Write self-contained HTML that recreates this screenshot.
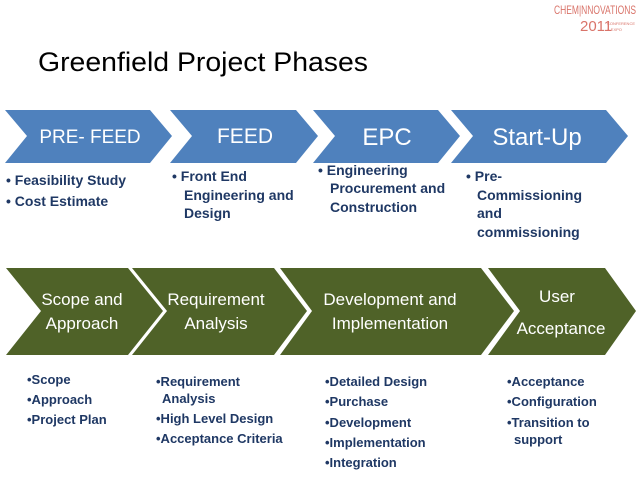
<!DOCTYPE html>
<html><head><style>
body{margin:0;background:#fff;}
svg text{font-family:"Liberation Sans",sans-serif;}
</style></head><body>
<svg width="638" height="479" xmlns="http://www.w3.org/2000/svg">
<defs><clipPath id="c"><rect x="0" y="0" width="605" height="479"/></clipPath></defs>
<text x="554" y="14" font-size="12" fill="#d9746a" textLength="82" lengthAdjust="spacingAndGlyphs">CHEM|NNOVATIONS</text>
<text x="580" y="31" font-size="15" fill="#d9746a">2011</text>
<text x="607" y="25" font-size="4" fill="#d9746a">CONFERENCE</text>
<text x="607" y="31" font-size="4" fill="#d9746a">&amp; EXPO</text>
<text x="38" y="71" font-size="27" fill="#000" textLength="330" lengthAdjust="spacingAndGlyphs">Greenfield Project Phases</text>
<g fill="#4f81bd">
<polygon points="5,110 150,110 172,136 150,163 5,163 27,136"/>
<polygon points="170,110 296,110 318,136 296,163 170,163 192,136"/>
<polygon points="313,110 438,110 460,136 438,163 313,163 335,136"/>
<polygon points="451,110 606,110 628,136 606,163 451,163 473,136"/>
</g>
<g fill="#fff" font-size="19" text-anchor="middle">
<text x="90" y="143">PRE- FEED</text>
<text x="245" y="143" font-size="21">FEED</text>
<text x="387" y="145" font-size="24">EPC</text>
<text x="537" y="145" font-size="24">Start-Up</text>
</g>
<g fill="#1f3864" font-size="14" font-weight="bold">
<text x="6" y="185">• Feasibility Study</text>
<text x="6" y="206">• Cost Estimate</text>
<text x="172" y="181">• Front End</text>
<text x="184" y="200">Engineering and</text>
<text x="184" y="218">Design</text>
<text x="318" y="175">• Engineering</text>
<text x="330" y="193">Procurement and</text>
<text x="330" y="212">Construction</text>
<text x="466" y="181">• Pre-</text>
<text x="477" y="200">Commissioning</text>
<text x="477" y="218">and</text>
<text x="477" y="237">commissioning</text>
</g>
<g fill="#4f6228">
<polygon points="6,268 128,268 163,311 128,355 6,355 41,311"/>
<polygon points="132,268 274,268 307,311 274,355 132,355 167,311"/>
<polygon points="280,268 481,268 514,311 481,355 280,355 312,311"/>
<polygon points="488,268 605,268 636,311 605,355 488,355 520,311"/>
</g>
<g fill="#fff" font-size="17" text-anchor="middle">
<text x="82" y="305">Scope and</text>
<text x="82" y="329">Approach</text>
<text x="216" y="305">Requirement</text>
<text x="216" y="329">Analysis</text>
<text x="390" y="305">Development and</text>
<text x="390" y="329">Implementation</text>
<text x="557" y="302">User</text>
<text x="561" y="334" clip-path="url(#c)">Acceptance</text>
</g>
<g fill="#1f3864" font-size="13" font-weight="bold">
<text x="27" y="384">•Scope</text>
<text x="27" y="404">•Approach</text>
<text x="27" y="424">•Project Plan</text>
<text x="156" y="386">•Requirement</text>
<text x="162" y="403">Analysis</text>
<text x="156" y="423">•High Level Design</text>
<text x="156" y="443">•Acceptance Criteria</text>
<text x="325" y="386">•Detailed Design</text>
<text x="325" y="406">•Purchase</text>
<text x="325" y="427">•Development</text>
<text x="325" y="447">•Implementation</text>
<text x="325" y="467">•Integration</text>
<text x="507" y="386">•Acceptance</text>
<text x="507" y="406">•Configuration</text>
<text x="507" y="427">•Transition to</text>
<text x="514" y="444">support</text>
</g>
</svg>
</body></html>
